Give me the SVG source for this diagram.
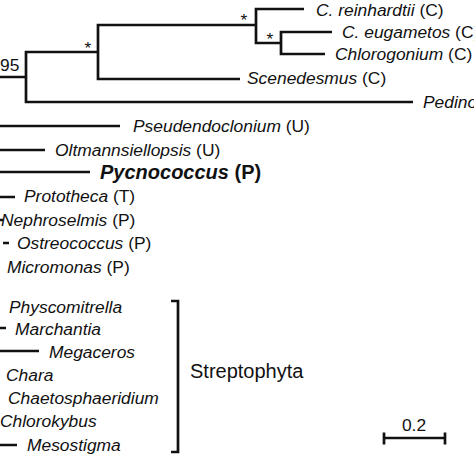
<svg xmlns="http://www.w3.org/2000/svg" width="474" height="474" viewBox="0 0 474 474">
<style>
text{font-family:"Liberation Sans",Arial,sans-serif;font-size:17.4px;fill:#111}
.i{font-style:italic}
.n{font-style:normal}
.b{font-weight:bold;font-size:20px}
.br{fill:none;stroke:#111;stroke-width:2.7;stroke-linecap:butt}
.st{font-size:20px}
</style>
<rect width="474" height="474" fill="#fff"/>
<g id="connectors" class="br">
<path d="M0,77H26M26,50.7V103.3M26,52H98M98,23.7V80.3M98,25H256M256,7.7V44.3M256,9H304M256,43H281M281,30.7V55.3M281,32H332M281,54H325M98,79H240M26,102H413"/>
<path d="M0,126H120M0,150H45M0,172H90M0,197H15M0,220H3M3,243H9M0,328H6M0,351H39M0,445H17"/>
</g>
<g id="support">
<text x="0" y="71">95</text>
<text x="88" y="54" text-anchor="middle">*</text>
<text x="244" y="26" text-anchor="middle">*</text>
<text x="270" y="45" text-anchor="middle">*</text>
</g>
<g id="n-creinhardtii"><text x="316" y="15.5" class="i">C. reinhardtii<tspan class="n"> (C)</tspan></text></g>
<g id="n-ceugametos"><text x="342" y="38" class="i">C. eugametos<tspan class="n"> (C)</tspan></text></g>
<g id="n-chlorogonium"><text x="335" y="60" class="i">Chlorogonium<tspan class="n"> (C)</tspan></text></g>
<g id="n-scenedesmus"><text x="247" y="84" class="i">Scenedesmus<tspan class="n"> (C)</tspan></text></g>
<g id="n-pedinomonas"><text x="423" y="108" class="i">Pedinomonas</text></g>
<g id="n-pseudendoclonium"><text x="133" y="132" class="i">Pseudendoclonium<tspan class="n"> (U)</tspan></text></g>
<g id="n-oltmannsiellopsis"><text x="55" y="156" class="i">Oltmannsiellopsis<tspan class="n"> (U)</tspan></text></g>
<g id="n-pycnococcus"><text x="100" y="179" class="i b">Pycnococcus<tspan class="n"> (P)</tspan></text></g>
<g id="n-prototheca"><text x="24" y="202" class="i">Prototheca<tspan class="n"> (T)</tspan></text></g>
<g id="n-nephroselmis"><text x="1" y="226" class="i">Nephroselmis<tspan class="n"> (P)</tspan></text></g>
<g id="n-ostreococcus"><text x="17" y="249" class="i">Ostreococcus<tspan class="n"> (P)</tspan></text></g>
<g id="n-micromonas"><text x="7" y="273" class="i">Micromonas<tspan class="n"> (P)</tspan></text></g>
<g id="n-physcomitrella"><text x="9" y="313" class="i">Physcomitrella</text></g>
<g id="n-marchantia"><text x="15" y="335" class="i">Marchantia</text></g>
<g id="n-megaceros"><text x="49" y="358" class="i">Megaceros</text></g>
<g id="n-chara"><text x="6" y="381" class="i">Chara</text></g>
<g id="n-chaetosphaeridium"><text x="8" y="404" class="i">Chaetosphaeridium</text></g>
<g id="n-chlorokybus"><text x="0" y="427" class="i">Chlorokybus</text></g>
<g id="n-mesostigma"><text x="27" y="451" class="i">Mesostigma</text></g>
<g id="streptophyta">
<path class="br" d="M171,301H178V452H171"/>
<text x="190" y="378" class="st">Streptophyta</text>
</g>
<g id="scalebar">
<path class="br" d="M383,438H446M384,432.5V444.5M445,432.5V444.5"/>
<text x="414" y="431" text-anchor="middle">0.2</text>
</g>
</svg>
